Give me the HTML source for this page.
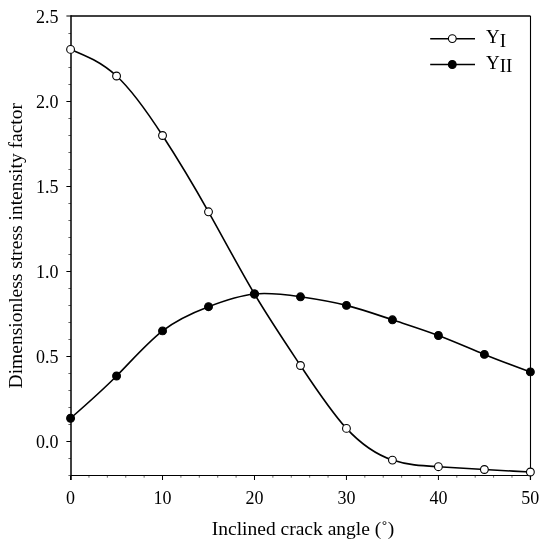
<!DOCTYPE html>
<html><head><meta charset="utf-8"><style>
html,body{margin:0;padding:0;background:#fff;}
svg{display:block;}
</style></head><body>
<svg width="550" height="547" viewBox="0 0 550 547"><rect width="550" height="547" fill="#fff"/><path d="M66.40,441.50H71.0M66.40,356.50H71.0M66.40,271.50H71.0M66.40,186.50H71.0M66.40,101.50H71.0M66.40,16.00H71.0M70.57,475.5V480.0M162.53,475.5V480.0M254.49,475.5V480.0M346.45,475.5V480.0M438.41,475.5V480.0M530.37,475.5V480.0" stroke="#000" stroke-width="1"/><path d="M68.40,475.50H71.0M68.40,458.50H71.0M68.40,424.50H71.0M68.40,407.50H71.0M68.40,390.50H71.0M68.40,373.50H71.0M68.40,339.50H71.0M68.40,322.50H71.0M68.40,305.50H71.0M68.40,288.50H71.0M68.40,254.50H71.0M68.40,237.50H71.0M68.40,220.50H71.0M68.40,203.50H71.0M68.40,169.50H71.0M68.40,152.50H71.0M68.40,135.50H71.0M68.40,118.50H71.0M68.40,84.50H71.0M68.40,67.50H71.0M68.40,50.50H71.0M68.40,33.50H71.0M88.96,475.5V477.7M107.35,475.5V477.7M125.75,475.5V477.7M144.14,475.5V477.7M180.92,475.5V477.7M199.31,475.5V477.7M217.71,475.5V477.7M236.10,475.5V477.7M272.88,475.5V477.7M291.27,475.5V477.7M309.67,475.5V477.7M328.06,475.5V477.7M364.84,475.5V477.7M383.23,475.5V477.7M401.63,475.5V477.7M420.02,475.5V477.7M456.80,475.5V477.7M475.19,475.5V477.7M493.59,475.5V477.7M511.98,475.5V477.7" stroke="#555" stroke-width="0.9"/><path d="M71.0,16.0H530.5" stroke="#000" stroke-width="1.5"/><path d="M71.0,15.25V480.0" stroke="#000" stroke-width="1.5"/><path d="M530.5,16.0V480.0" stroke="#000" stroke-width="1.1"/><path d="M71.0,475.5H530.5" stroke="#000" stroke-width="1.2"/><path d="M70.57,49.40C85.90,55.67 101.22,61.95 116.55,76.00C131.88,90.05 147.20,111.88 162.53,135.50C177.86,159.12 193.18,184.55 208.51,211.80C223.84,239.05 239.16,268.13 254.49,294.00C269.82,319.87 285.14,342.52 300.47,365.50C315.80,388.48 331.12,411.80 346.45,428.40C361.78,445.00 377.10,454.88 392.43,460.10C407.76,465.32 423.08,465.89 438.41,466.70C453.74,467.51 469.06,468.58 484.39,469.50C499.72,470.42 515.04,471.21 530.37,472.00" fill="none" stroke="#000" stroke-width="1.6"/><path d="M70.57,418.25C85.90,404.87 101.22,391.49 116.55,376.00C131.88,360.51 147.20,342.89 162.53,330.90C177.86,318.91 193.18,312.53 208.51,306.70C223.84,300.87 239.16,295.58 254.49,294.00C269.82,292.42 285.14,294.53 300.47,296.80C315.80,299.07 331.12,301.49 346.45,305.40C361.78,309.31 377.10,314.71 392.43,319.80C407.76,324.89 423.08,329.68 438.41,335.50C453.74,341.32 469.06,348.16 484.39,354.40C499.72,360.64 515.04,366.27 530.37,371.90" fill="none" stroke="#000" stroke-width="1.6"/><circle cx="70.57" cy="49.40" r="3.9" fill="#fff" stroke="#000" stroke-width="1.1"/><circle cx="116.55" cy="76.00" r="3.9" fill="#fff" stroke="#000" stroke-width="1.1"/><circle cx="162.53" cy="135.50" r="3.9" fill="#fff" stroke="#000" stroke-width="1.1"/><circle cx="208.51" cy="211.80" r="3.9" fill="#fff" stroke="#000" stroke-width="1.1"/><circle cx="254.49" cy="294.00" r="3.9" fill="#fff" stroke="#000" stroke-width="1.1"/><circle cx="300.47" cy="365.50" r="3.9" fill="#fff" stroke="#000" stroke-width="1.1"/><circle cx="346.45" cy="428.40" r="3.9" fill="#fff" stroke="#000" stroke-width="1.1"/><circle cx="392.43" cy="460.10" r="3.9" fill="#fff" stroke="#000" stroke-width="1.1"/><circle cx="438.41" cy="466.70" r="3.9" fill="#fff" stroke="#000" stroke-width="1.1"/><circle cx="484.39" cy="469.50" r="3.9" fill="#fff" stroke="#000" stroke-width="1.1"/><circle cx="530.37" cy="472.00" r="3.9" fill="#fff" stroke="#000" stroke-width="1.1"/><circle cx="70.57" cy="418.25" r="3.9" fill="#000" stroke="#000" stroke-width="1.1"/><circle cx="116.55" cy="376.00" r="3.9" fill="#000" stroke="#000" stroke-width="1.1"/><circle cx="162.53" cy="330.90" r="3.9" fill="#000" stroke="#000" stroke-width="1.1"/><circle cx="208.51" cy="306.70" r="3.9" fill="#000" stroke="#000" stroke-width="1.1"/><circle cx="254.49" cy="294.00" r="3.9" fill="#000" stroke="#000" stroke-width="1.1"/><circle cx="300.47" cy="296.80" r="3.9" fill="#000" stroke="#000" stroke-width="1.1"/><circle cx="346.45" cy="305.40" r="3.9" fill="#000" stroke="#000" stroke-width="1.1"/><circle cx="392.43" cy="319.80" r="3.9" fill="#000" stroke="#000" stroke-width="1.1"/><circle cx="438.41" cy="335.50" r="3.9" fill="#000" stroke="#000" stroke-width="1.1"/><circle cx="484.39" cy="354.40" r="3.9" fill="#000" stroke="#000" stroke-width="1.1"/><circle cx="530.37" cy="371.90" r="3.9" fill="#000" stroke="#000" stroke-width="1.1"/><text x="58.5" y="447.70" text-anchor="end" font-size="18" font-family="Liberation Serif, 'Times New Roman', serif">0.0</text><text x="58.5" y="362.70" text-anchor="end" font-size="18" font-family="Liberation Serif, 'Times New Roman', serif">0.5</text><text x="58.5" y="277.70" text-anchor="end" font-size="18" font-family="Liberation Serif, 'Times New Roman', serif">1.0</text><text x="58.5" y="192.70" text-anchor="end" font-size="18" font-family="Liberation Serif, 'Times New Roman', serif">1.5</text><text x="58.5" y="107.70" text-anchor="end" font-size="18" font-family="Liberation Serif, 'Times New Roman', serif">2.0</text><text x="58.5" y="22.70" text-anchor="end" font-size="18" font-family="Liberation Serif, 'Times New Roman', serif">2.5</text><text x="70.57" y="504.1" text-anchor="middle" font-size="18" font-family="Liberation Serif, 'Times New Roman', serif">0</text><text x="162.53" y="504.1" text-anchor="middle" font-size="18" font-family="Liberation Serif, 'Times New Roman', serif">10</text><text x="254.49" y="504.1" text-anchor="middle" font-size="18" font-family="Liberation Serif, 'Times New Roman', serif">20</text><text x="346.45" y="504.1" text-anchor="middle" font-size="18" font-family="Liberation Serif, 'Times New Roman', serif">30</text><text x="438.41" y="504.1" text-anchor="middle" font-size="18" font-family="Liberation Serif, 'Times New Roman', serif">40</text><text x="530.37" y="504.1" text-anchor="middle" font-size="18" font-family="Liberation Serif, 'Times New Roman', serif">50</text><text x="303" y="534.8" text-anchor="middle" font-size="19.5" font-family="Liberation Serif, 'Times New Roman', serif">Inclined crack angle (&#730;)</text><text transform="translate(22,245.7) rotate(-90)" x="0" y="0" text-anchor="middle" font-size="19.5" font-family="Liberation Serif, 'Times New Roman', serif">Dimensionless stress intensity factor</text><path d="M430.2,38.7H475M430.2,64.5H475" stroke="#000" stroke-width="1.5"/><circle cx="452.3" cy="38.6" r="3.9" fill="#fff" stroke="#000" stroke-width="1.1"/><circle cx="452.3" cy="64.5" r="3.9" fill="#000" stroke="#000" stroke-width="1.1"/><text x="486" y="42.8" font-size="19" font-family="Liberation Serif, 'Times New Roman', serif">Y<tspan dy="3.9">I</tspan></text><text x="486" y="69.3" font-size="19" font-family="Liberation Serif, 'Times New Roman', serif">Y<tspan dy="2.9">II</tspan></text></svg>
</body></html>
